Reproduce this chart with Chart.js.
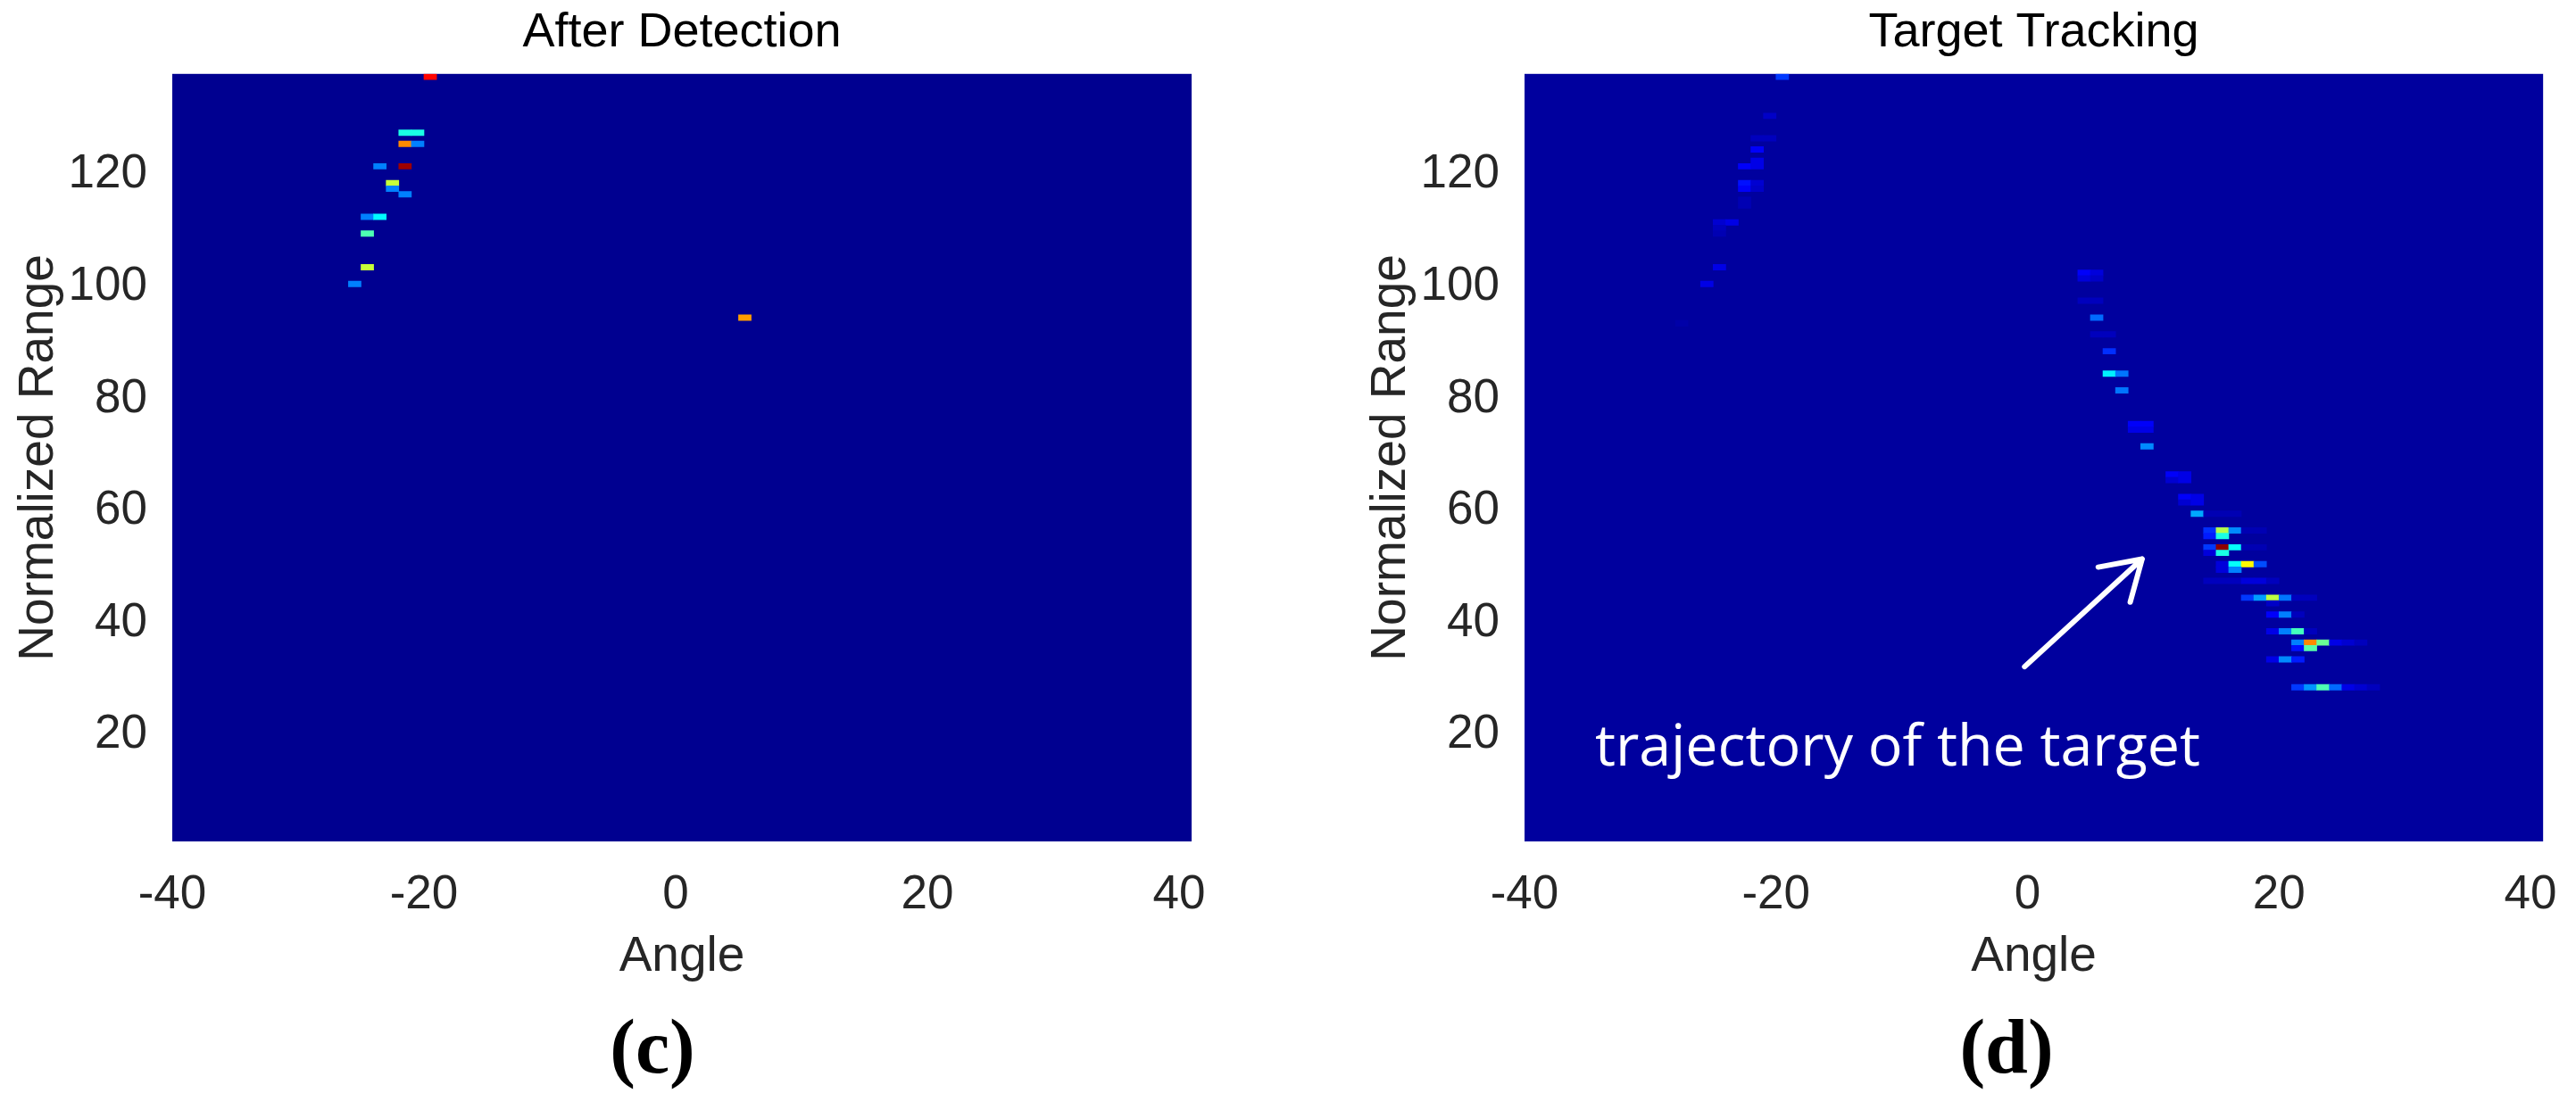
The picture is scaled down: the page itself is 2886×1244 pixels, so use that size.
<!DOCTYPE html>
<html>
<head>
<meta charset="utf-8">
<script src="https://cdn.jsdelivr.net/npm/chart.js@4.4.1/dist/chart.umd.min.js"></script>
<style>
    body { margin: 0; background: #fff; width: 2886px; height: 1244px; position: relative; overflow: hidden; }
    canvas { position: absolute; top: 0; }
    .cap { position: absolute; width: 400px; text-align: center; font: bold 86px 'Liberation Serif', serif; line-height: 86px; top: 1130px; color: #000; }
</style>
</head>
<body>
<canvas id="detChart" width="1443" height="1244" style="left:0"></canvas>
<canvas id="trkChart" width="1443" height="1244" style="left:1443px"></canvas>
<div class="cap" style="left:531px">(c)</div>
<div class="cap" style="left:2048px">(d)</div>
<script>
const angleTicks = [-40, -20, 0, 20, 40];
const rangeTicks = [20, 40, 60, 80, 100, 120];

// After Detection: cell left edge (deg), range bin, colour level (0..1 on jet)
const detAngle = [-20, -22, -21, -22, -21, -24, -22, -23, -23, -22, -25, -24, -25, -25, -26, 5];
const detRange = [137, 127, 127, 125, 125, 121, 121, 118, 117, 116, 112, 112, 109, 103, 100, 94];
const detLevel = [0.87, 0.40, 0.40, 0.74, 0.25, 0.25, 0.97, 0.57, 0.25, 0.25, 0.25, 0.37, 0.45, 0.57, 0.25, 0.72];
const detBackground = 0.016;

// Target Tracking, same layout
const trkAngle = [
    // faint trail top left
    -20, -21, -22, -21, -22, -22, -23, -22, -23, -22, -23, -22, -23, -23, -25, -24, -25, -25, -25, -26, -28,
    // main trail
    4, 5, 4, 5, 4, 5, 5, 5, 6, 6, 6, 7, 7, 8, 9, 8, 9, 9,
    11, 12, 11, 12, 12, 13, 12, 13,
    13, 14, 15, 16,
    14, 15, 16, 17, 18,
    14, 15,
    14, 15, 16, 17, 18,
    14, 15,
    15, 16, 17, 18,
    15, 16,
    14, 15, 16, 17, 18, 19,
    17, 18, 19, 20, 21, 22,
    19,
    19, 20, 21,
    19, 20, 21, 22,
    21, 22, 23, 24, 25, 26,
    21, 22,
    19, 20, 21,
    21, 22, 23, 24, 25, 26, 27
];
const trkRange = [
    137, 130, 126, 126, 124, 122, 121, 121, 118, 118, 117, 117, 115, 114, 111, 111, 110, 109, 103, 100, 93,
    102, 102, 101, 101, 97, 97, 94, 91, 91, 88, 84, 84, 81, 75, 75, 74, 74, 71,
    66, 66, 65, 65, 62, 62, 61, 61,
    59, 59, 59, 59,
    56, 56, 56, 56, 56,
    55, 55,
    53, 53, 53, 53, 53,
    52, 52,
    50, 50, 50, 50,
    49, 49,
    47, 47, 47, 47, 47, 47,
    44, 44, 44, 44, 44, 44,
    43,
    41, 41, 41,
    38, 38, 38, 38,
    36, 36, 36, 36, 36, 36,
    35, 35,
    33, 33, 33,
    28, 28, 28, 28, 28, 28, 28
];
const trkLevel = [
    0.18, 0.07, 0.06, 0.06, 0.12, 0.10, 0.12, 0.10, 0.14, 0.08, 0.12, 0.07, 0.05, 0.05, 0.08, 0.10, 0.06, 0.05, 0.10, 0.10, 0.04,
    0.12, 0.09, 0.09, 0.07, 0.06, 0.06, 0.23, 0.06, 0.06, 0.17, 0.36, 0.24, 0.24, 0.12, 0.12, 0.10, 0.10, 0.26,
    0.12, 0.10, 0.08, 0.10, 0.12, 0.10, 0.08, 0.10,
    0.29, 0.05, 0.05, 0.05,
    0.17, 0.55, 0.26, 0.05, 0.05,
    0.15, 0.40,
    0.18, 0.985, 0.38, 0.05, 0.05,
    0.09, 0.40,
    0.09, 0.38, 0.63, 0.20,
    0.09, 0.25,
    0.06, 0.06, 0.06, 0.09, 0.09, 0.06,
    0.18, 0.28, 0.56, 0.24, 0.06, 0.06,
    0.07,
    0.12, 0.25, 0.06,
    0.10, 0.25, 0.44, 0.06,
    0.25, 0.74, 0.48, 0.10, 0.08, 0.06,
    0.14, 0.46,
    0.10, 0.26, 0.15,
    0.18, 0.27, 0.45, 0.23, 0.10, 0.08, 0.06
];
const trkBackground = 0.03;

// annotation in data coordinates (angle, range)
const noteText = 'trajectory of the target';
const notePos = [-34.4, 14.5];
const arrowFrom = [-0.23, 32.2];
const arrowTo = [9.11, 51.4];

const FONT = "'Liberation Sans', Arial, sans-serif";
const TICK_COLOR = '#262626';

// MATLAB style jet colormap
let jet = v => {
    let c = t => Math.round(255 * Math.min(1, Math.max(0, 1.5 - Math.abs(4 * v - t))));
    return 'rgb(' + c(3) + ',' + c(2) + ',' + c(1) + ')';
}

const plotBackground = {
    id: 'plotBackground',
    beforeDatasetsDraw(chart, args, opts) {
        let { ctx, chartArea: a } = chart;
        ctx.save();
        ctx.fillStyle = opts.color;
        ctx.fillRect(a.left, a.top, a.width, a.height);
        ctx.restore();
    }
};

const trajectoryNote = {
    id: 'trajectoryNote',
    afterDatasetsDraw(chart) {
        let { ctx, scales: { x, y } } = chart;
        ctx.save();
        // arrow
        let x0 = x.getPixelForValue(arrowFrom[0]), y0 = y.getPixelForValue(arrowFrom[1]);
        let x1 = x.getPixelForValue(arrowTo[0]), y1 = y.getPixelForValue(arrowTo[1]);
        let ang = Math.atan2(y1 - y0, x1 - x0);
        let head = 50, spread = 0.56;
        ctx.strokeStyle = '#fff';
        ctx.lineWidth = 6;
        ctx.lineCap = 'round';
        ctx.lineJoin = 'round';
        ctx.beginPath();
        ctx.moveTo(x0, y0);
        ctx.lineTo(x1, y1);
        ctx.moveTo(x1 - head * Math.cos(ang - spread), y1 - head * Math.sin(ang - spread));
        ctx.lineTo(x1, y1);
        ctx.lineTo(x1 - head * Math.cos(ang + spread), y1 - head * Math.sin(ang + spread));
        ctx.stroke();
        // label, sized to the width it has in the figure
        ctx.font = "100px 'Open Sans', 'Noto Sans', sans-serif";
        let size = 100 * 678 / ctx.measureText(noteText).width;
        ctx.font = size.toFixed(1) + "px 'Open Sans', 'Noto Sans', sans-serif";
        ctx.fillStyle = '#fff';
        ctx.textBaseline = 'alphabetic';
        ctx.textAlign = 'left';
        ctx.fillText(noteText, x.getPixelForValue(notePos[0]), y.getPixelForValue(notePos[1]));
        ctx.restore();
    }
};

let makeChart = (id, angles, ranges, levels, bg, title, geo, extra) => {
    let cells = angles.map((a, i) => ({ x: [a, a + 1], y: ranges[i] + 0.5 }));
    return new Chart(document.getElementById(id), {
        type: 'bar',
        data: {
            datasets: [{
                data: cells,
                backgroundColor: levels.map(jet),
                borderWidth: 0,
                barPercentage: 1,
                categoryPercentage: 1
            }]
        },
        options: {
            indexAxis: 'y',
            responsive: false,
            animation: false,
            devicePixelRatio: 1,
            events: [],
            layout: { padding: { left: 0, right: geo.right, top: 0, bottom: 131 } },
            plugins: {
                legend: { display: false },
                tooltip: { enabled: false },
                title: {
                    display: true,
                    text: title,
                    fullSize: false,
                    color: '#000',
                    font: { family: FONT, size: 54, weight: 'normal', lineHeight: 1.2 },
                    padding: { top: 5, bottom: 13 }
                },
                plotBackground: { color: jet(bg) }
            },
            scales: {
                x: {
                    type: 'linear',
                    position: 'bottom',
                    min: -40,
                    max: 41,
                    grid: { display: false },
                    border: { display: false },
                    afterBuildTicks: s => { s.ticks = angleTicks.map(v => ({ value: v })) },
                    afterFit: s => { s.height = 170 },
                    ticks: { color: TICK_COLOR, padding: 21, font: { family: FONT, size: 53 } },
                    title: {
                        display: true,
                        text: 'Angle',
                        color: TICK_COLOR,
                        font: { family: FONT, size: 55, lineHeight: 1.2 },
                        padding: { top: 0, bottom: 7 }
                    }
                },
                y: {
                    type: 'linear',
                    position: 'left',
                    min: 1,
                    max: 138,
                    offset: false,
                    grid: { display: false, offset: false },
                    border: { display: false },
                    afterBuildTicks: s => { s.ticks = rangeTicks.map(v => ({ value: v })) },
                    afterFit: s => { s.width = geo.left },
                    ticks: { color: TICK_COLOR, padding: 20, font: { family: FONT, size: 53 } },
                    title: {
                        display: true,
                        text: 'Normalized Range',
                        color: TICK_COLOR,
                        font: { family: FONT, size: 55, lineHeight: 1.2 },
                        padding: { top: geo.titlePad, bottom: 0 }
                    }
                }
            }
        },
        plugins: [plotBackground].concat(extra)
    });
}

makeChart('detChart', detAngle, detRange, detLevel, detBackground, 'After Detection',
    { left: 193, right: 108, titlePad: 11 }, []);
makeChart('trkChart', trkAngle, trkRange, trkLevel, trkBackground, 'Target Tracking',
    { left: 265, right: 34, titlePad: 83 }, [trajectoryNote]);
</script>
</body>
</html>
